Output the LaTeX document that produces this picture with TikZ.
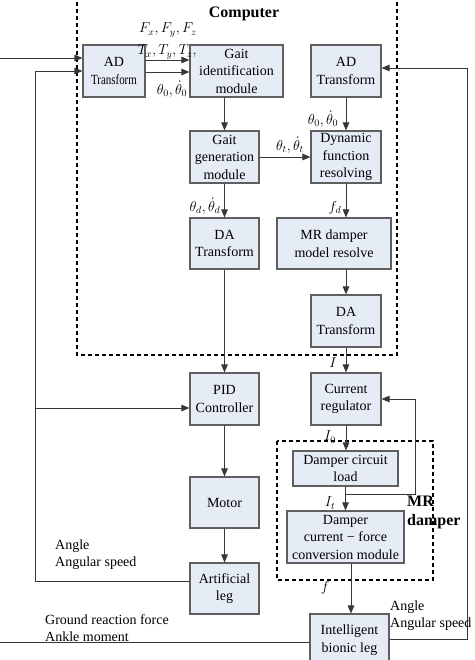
\documentclass[tikz,border=0pt]{standalone}
\usepackage{fontspec}
\setmainfont{Liberation Serif}
\usetikzlibrary{arrows.meta}
\definecolor{boxfill}{RGB}{230,236,246}
\definecolor{boxline}{RGB}{95,95,95}
\definecolor{lnc}{RGB}{55,55,55}
\begin{document}
\begin{tikzpicture}[x=1pt,y=-1pt,
  blk/.style 2 args={draw=boxline, fill=boxfill, line width=1.1pt, align=center, inner sep=0pt,
    minimum width=#1pt, minimum height=#2pt, font=\rmfamily\fontsize{14}{17.5}\selectfont},
  conn/.style={draw=lnc, line width=0.9pt},
  arr/.style={conn, -{Triangle[length=8pt,width=6.5pt]}},
  dsh/.style={draw=black, line width=1.3pt, dash pattern=on 4pt off 3pt},
  lbl/.style={inner sep=0pt, font=\fontsize{14}{17}\selectfont},
  txt/.style={inner sep=0pt, align=left, anchor=west, font=\rmfamily\fontsize{14}{17.5}\selectfont},
  ttl/.style={inner sep=0pt, align=left, font=\rmfamily\fontsize{16}{19}\selectfont\bfseries}]
\path[use as bounding box, clip] (0,0) rectangle (474,660);
\fill[white] (0,0) rectangle (474,660);
% dashed groups
\draw[dsh] (77,-5) -- (77,355) -- (397,355) -- (397,-5);
\draw[dsh] (277,441) rectangle (433,580);
% blocks
\node[blk={62}{52}] (ad1) at (114,71) {AD\\\scalebox{0.78}[1]{Transform}};
\node[blk={93}{52}] (gid) at (236.5,71) {Gait\\identification\\module};
\node[blk={70}{52}] (ad2) at (346,71) {AD\\Transform};
\node[blk={69}{52}] (ggen) at (224.5,157) {Gait\\generation\\module};
\node[blk={70}{52}] (dyn) at (346,157) {Dynamic\\function\\resolving};
\node[blk={69}{51}] (da1) at (224.5,243.5) {DA\\Transform};
\node[blk={114}{51}] (mrm) at (334,243.5) {MR damper\\model resolve};
\node[blk={70}{52}] (da2) at (346,321) {DA\\Transform};
\node[blk={69}{52}] (pid) at (224.5,399) {PID\\Controller};
\node[blk={70}{52}] (cur) at (346,399) {Current\\regulator};
\node[blk={105}{35}] (dcl) at (345.5,468.5) {Damper circuit\\load};
\node[blk={69}{51}] (mot) at (224.5,502.5) {Motor};
\node[blk={117}{52}] (conv) at (345.5,537) {Damper\\current − force\\conversion module};
\node[blk={69}{51}] (art) at (224.5,588.5) {Artificial\\leg};
\node[blk={79}{52}] (bio) at (349.5,640) {Intelligent\\bionic leg};
% titles
\node[ttl] (tcomp) at (244,14) {Computer};
\node[ttl, anchor=west] (tmr) at (407,512) {MR\\damper};
% connectors inside computer
\draw[arr] (ad1.east |- 0,60) -- (gid.west |- 0,60);
\draw[arr] (ad1.east |- 0,72) -- (gid.west |- 0,72);
\draw[arr] (gid.south -| ggen) -- (ggen.north);
\draw[arr] (ad2) -- (dyn);
\draw[arr] (ggen) -- (dyn);
\draw[arr] (ggen) -- (da1);
\draw[arr] (dyn.south) -- (dyn.south |- mrm.north);
\draw[arr] (mrm.south -| da2) -- (da2.north);
\draw[arr] (da1) -- (pid);
\draw[arr] (da2) -- (cur);
\draw[arr] (pid) -- (mot);
\draw[arr] (mot) -- (art);
\draw[arr] (cur.south) -- (cur.south |- dcl.north);
\draw[arr] (dcl.south) -- (dcl.south |- conv.north);
\coordinate (fb) at (345.5,494);
\draw[arr] (fb) -- (415,494) -- (415,399) -- (cur.east);
\draw[arr] (conv.south -| 351,0) -- (bio.north -| 351,0);
% outer loops
\coordinate (inA) at (0,58);
\draw[arr] (inA) -- (ad1.west |- inA);
\coordinate (lp) at (35,581);
\draw[arr] (art.west |- lp) -- (lp) -- (35,71) -- (ad1.west |- 0,71);
\coordinate (lpid) at (35,408);
\draw[arr] (lpid) -- (pid.west |- lpid);
\coordinate (inB) at (0,642);
\draw[conn] (inB) -- (bio.west |- inB);
\coordinate (rfb) at (467,639);
\draw[arr] (bio.east |- rfb) -- (rfb) -- (467,68) -- (ad2.east |- 0,68);
% signal labels
\node[lbl] (lF) at (168,30) {$F_x,F_y,F_z$};
\node[lbl] (lT) at (167,52) {$T_x,T_y,T_z,$};
\node[lbl] (lth0) at (172,89) {$\theta_0,\dot\theta_0$};
\node[lbl] (lth0b) at (323,119) {$\theta_0,\dot\theta_0$};
\node[lbl] (ltht) at (290,145) {$\theta_t,\dot\theta_t$};
\node[lbl] (lthd) at (205,206) {$\theta_d,\dot\theta_d$};
\node[lbl] (lfd) at (335,208) {$f_d$};
\node[lbl] (lI) at (333,363) {$I$};
\node[lbl] (lI0) at (330,437) {$I_0$};
\node[lbl] (lIt) at (330,503) {$I_t$};
\node[lbl] (lf) at (325,588) {$f$};
% text labels
\node[txt] (tang1) at (55,554.5) {Angle\\Angular speed};
\node[txt] (tgr) at (45,628) {Ground reaction force\\Ankle moment};
\node[txt] (tang2) at (390,615.5) {Angle\\Angular speed};
\end{tikzpicture}
\end{document}
